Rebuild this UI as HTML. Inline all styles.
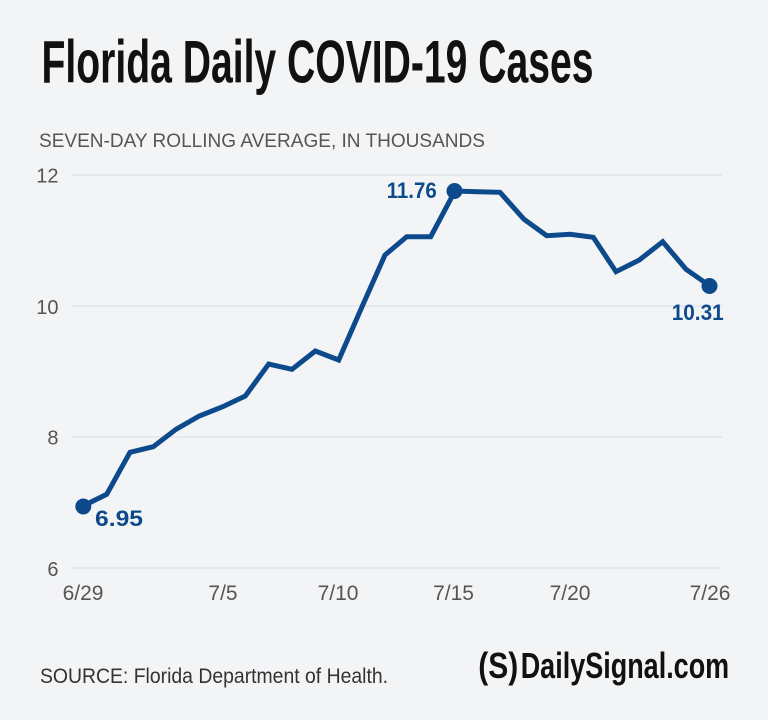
<!DOCTYPE html>
<html>
<head>
<meta charset="utf-8">
<style>
  html,body{margin:0;padding:0;background:#f3f4f6;}
  svg{display:block;}
  text{font-family:"Liberation Sans",sans-serif;}
</style>
</head>
<body>
<svg width="768" height="720" viewBox="0 0 768 720" xmlns="http://www.w3.org/2000/svg">
  <rect x="0" y="0" width="768" height="720" fill="#f3f4f6"/>

  <!-- Title -->
  <text x="41.5" y="82.5" font-size="60" font-weight="bold" fill="#111" textLength="552" lengthAdjust="spacingAndGlyphs">Florida Daily COVID-19 Cases</text>

  <!-- Subtitle -->
  <text x="39" y="147" font-size="19" fill="#555" textLength="446" lengthAdjust="spacingAndGlyphs">SEVEN-DAY ROLLING AVERAGE, IN THOUSANDS</text>

  <!-- Gridlines -->
  <g stroke="#e1e3e7" stroke-width="1.5">
    <line x1="72" y1="175" x2="722" y2="175"/>
    <line x1="72" y1="306" x2="722" y2="306"/>
    <line x1="72" y1="437" x2="722" y2="437"/>
    <line x1="72" y1="568" x2="722" y2="568"/>
  </g>

  <!-- Y labels -->
  <g font-size="20" fill="#555" text-anchor="end">
    <text x="58.5" y="182.5">12</text>
    <text x="58.5" y="314">10</text>
    <text x="58.5" y="444.5">8</text>
    <text x="58.5" y="576">6</text>
  </g>

  <!-- X labels -->
  <g font-size="21" fill="#555" text-anchor="middle">
    <text x="83" y="600">6/29</text>
    <text x="223" y="600">7/5</text>
    <text x="338" y="600">7/10</text>
    <text x="453.5" y="600">7/15</text>
    <text x="570" y="600">7/20</text>
    <text x="710" y="600">7/26</text>
  </g>

  <!-- Line -->
  <polyline fill="none" stroke="#0d4a8c" stroke-width="5" stroke-linejoin="miter" stroke-linecap="round"
    points="83,506 106.7,494.3 130,452.3 153.3,446.7 176,429.3 199.3,416 222.7,406.7 245.3,396 268.7,364 292,369.3 315.3,351 338.7,360 362,306.7 385,255 406.7,236.7 430.7,236.7 455,191 478,191.7 500,192.3 524,219.3 546.7,235.7 570,234.3 593.3,237.3 616,271.7 639.3,260 662.7,241.7 686,269.3 710,286"/>

  <!-- Markers -->
  <g fill="#0d4a8c">
    <circle cx="83.3" cy="506.5" r="8"/>
    <circle cx="454.5" cy="191" r="8"/>
    <circle cx="709.5" cy="286" r="8"/>
  </g>

  <!-- Value labels -->
  <g font-size="22" font-weight="bold" fill="#0d4a8c">
    <text x="95" y="526" textLength="48" lengthAdjust="spacingAndGlyphs">6.95</text>
    <text x="386.7" y="198" textLength="50" lengthAdjust="spacingAndGlyphs">11.76</text>
    <text x="671.7" y="320" textLength="52" lengthAdjust="spacingAndGlyphs">10.31</text>
  </g>

  <!-- Source -->
  <text x="40" y="683" font-size="21" fill="#333" textLength="348" lengthAdjust="spacingAndGlyphs">SOURCE: Florida Department of Health.</text>

  <!-- Logo -->
  <text x="478.3" y="678" font-size="36" font-weight="bold" fill="#111" textLength="40" lengthAdjust="spacingAndGlyphs">(S)</text>
  <text x="520.7" y="678" font-size="36" font-weight="bold" fill="#111" textLength="208.5" lengthAdjust="spacingAndGlyphs">DailySignal.com</text>
</svg>
</body>
</html>
